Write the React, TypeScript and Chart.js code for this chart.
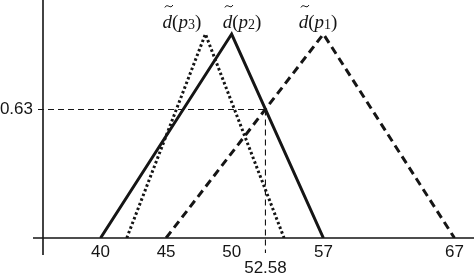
import React, { useEffect, useRef } from "react";
import { Chart, registerables } from "chart.js";

Chart.register(...registerables);

// Triangular fuzzy numbers (x values of left foot, peak, right foot)
const p1X = [45, 57, 67];
const p2X = [40, 50, 57];
const p3X = [42, 48, 54];
const membership = [0, 1, 0];

const xTickValues = [40, 45, 50, 52.58, 57, 67];
const yTickValues = [0.63];
const cutX = 52.58;
const cutY = 0.63;

const seriesNames = ["3", "2", "1"]; // subscripts for p3, p2, p1
const labelCenters = [46.21, 50.79, 56.59]; // x (data units) where each label is centred

const toPts = (xs: number[]) => xs.map((x, i) => ({ x, y: membership[i] }));

const INK = "#151515";

const overlayPlugin = {
  id: "overlay",
  afterDatasetsDraw(chart: any) {
    const { ctx, chartArea, scales } = chart;
    const xs = scales.x;
    const ys = scales.y;
    const y0 = ys.getPixelForValue(0);
    const left = chartArea.left;
    ctx.save();
    // axes
    ctx.strokeStyle = INK;
    ctx.lineWidth = 1.6;
    ctx.setLineDash([]);
    ctx.beginPath();
    ctx.moveTo(left - 10, y0);
    ctx.lineTo(chart.width, y0);
    ctx.moveTo(left, 0);
    ctx.lineTo(left, y0 + 17);
    ctx.stroke();

    // guide lines
    const gx = xs.getPixelForValue(cutX);
    const gy = ys.getPixelForValue(cutY);
    ctx.lineWidth = 1.1;
    ctx.setLineDash([6, 4]);
    ctx.beginPath();
    ctx.moveTo(left - 5, gy);
    ctx.lineTo(gx, gy);
    ctx.stroke();
    ctx.beginPath();
    ctx.moveTo(gx, gy);
    ctx.lineTo(gx, y0 + 15);
    ctx.stroke();
    ctx.setLineDash([]);

    // series labels  d~(p_i)
    const big = "19px 'Liberation Serif', serif";
    const bigIt = "italic 19px 'Liberation Serif', serif";
    const small = "14px 'Liberation Serif', serif";
    const baseY = 28;
    ctx.fillStyle = INK;
    ctx.textBaseline = "alphabetic";
    ctx.textAlign = "left";
    seriesNames.forEach((sub, i) => {
      const parts = [
        { t: "d", f: bigIt },
        { t: "(", f: big },
        { t: "p", f: bigIt },
        { t: sub, f: small, dy: 1 },
        { t: ")", f: big },
      ];
      const widths = parts.map((p) => {
        ctx.font = p.f;
        return ctx.measureText(p.t).width;
      });
      const total = widths.reduce((a, b) => a + b, 0);
      let x = xs.getPixelForValue(labelCenters[i]) - total / 2;
      parts.forEach((p, k) => {
        ctx.font = p.f;
        ctx.fillText(p.t, x, baseY + ((p as any).dy || 0));
        if (k === 0) {
          const cx = x + widths[0] / 2 + 1.5;
          ctx.lineWidth = 1;
          ctx.beginPath();
          ctx.moveTo(cx - 4, 7.5);
          ctx.bezierCurveTo(cx - 1.5, 2.5, cx + 1.5, 10, cx + 4, 5);
          ctx.stroke();
        }
        x += widths[k];
      });
    });
    ctx.restore();
  },
};

export default function App() {
  const ref = useRef<HTMLCanvasElement | null>(null);
  useEffect(() => {
    if (!ref.current) return;
    const tickFont = { family: "'Liberation Sans', Arial, sans-serif", size: 17, lineHeight: 0.95 };
    const chart = new Chart(ref.current, {
      type: "line",
      data: {
        datasets: [
          {
            label: "p1",
            data: toPts(p1X),
            borderColor: INK,
            borderWidth: 3,
            borderDash: [8, 5],
            pointRadius: 0,
            tension: 0,
          },
          {
            label: "p2",
            data: toPts(p2X),
            borderColor: INK,
            borderWidth: 3,
            pointRadius: 0,
            tension: 0,
          },
          {
            label: "p3",
            data: toPts(p3X),
            borderColor: INK,
            borderWidth: 3,
            borderDash: [2.5, 2.5],
            pointRadius: 0,
            tension: 0,
          },
        ],
      },
      options: {
        animation: false,
        responsive: false,
        layout: { padding: 0 },
        plugins: { legend: { display: false }, tooltip: { enabled: false } },
        scales: {
          x: {
            type: "linear",
            min: 35.61,
            max: 68.49,
            grid: { display: false, drawTicks: false },
            border: { display: false },
            afterBuildTicks: (s: any) => {
              s.ticks = xTickValues.map((v) => ({ value: v }));
            },
            afterFit: (s: any) => {
              s.height = 37;
              s.paddingLeft = 0;
              s.paddingRight = 0;
              s.paddingTop = 0;
              s.paddingBottom = 0;
            },
            ticks: {
              autoSkip: false,
              maxRotation: 0,
              padding: 6,
              color: INK,
              font: tickFont,
              callback: (v: any) => (v === cutX ? ["", String(v)] : String(v)),
            },
          },
          y: {
            type: "linear",
            min: 0,
            max: 1.167,
            grid: { display: false, drawTicks: false },
            border: { display: false },
            afterBuildTicks: (s: any) => {
              s.ticks = yTickValues.map((v) => ({ value: v }));
            },
            afterFit: (s: any) => {
              s.width = 43;
              s.paddingLeft = 0;
              s.paddingRight = 0;
              s.paddingTop = 0;
              s.paddingBottom = 0;
            },
            ticks: {
              padding: 10,
              color: INK,
              font: tickFont,
              callback: (v: any) => String(v),
            },
          },
        },
      },
      plugins: [overlayPlugin],
    } as any);
    return () => chart.destroy();
  }, []);
  return (
    <div style={{ position: "absolute", left: 0, top: 0, width: 474, height: 275, background: "#fff" }}>
      <canvas ref={ref} width={474} height={275} />
    </div>
  );
}
